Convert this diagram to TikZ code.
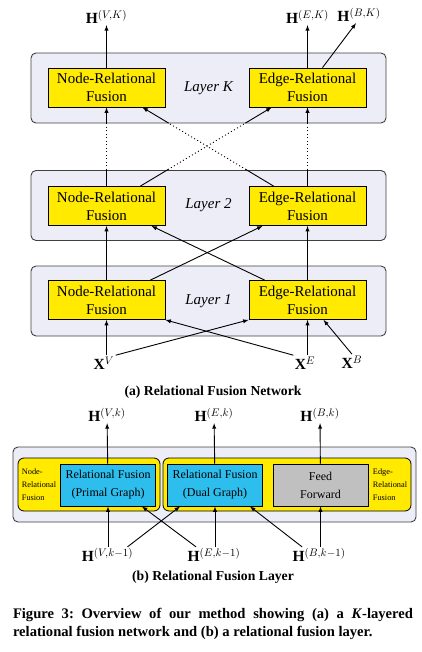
\documentclass[tikz,border=0pt]{standalone}
\usepackage{fontspec}
\setmainfont{Liberation Serif}
\usetikzlibrary{positioning,calc}
\definecolor{fusionyellow}{RGB}{255,234,0}
\definecolor{layerlavender}{RGB}{237,237,248}
\definecolor{graphblue}{RGB}{45,190,238}
\definecolor{feedgray}{RGB}{192,192,192}
\frenchspacing

\begin{document}
\begin{tikzpicture}[x=1pt,y=-1pt,-latex,line width=0.9pt,on grid,
    layer/.style={rectangle,rounded corners=5pt,fill=layerlavender,draw=black!75,minimum width=355pt,minimum height=70pt},
    fusion/.style={rectangle,fill=fusionyellow,draw=black,line width=0.8pt,minimum width=117pt,minimum height=39pt,inner sep=0pt,align=center,font=\fontsize{15}{18}\selectfont},
    layertext/.style={font=\fontsize{15}{18}\selectfont\itshape},
    hlabel/.style={inner sep=1pt,font=\fontsize{15.5}{18}\selectfont},
    subfusion/.style={rectangle,rounded corners=6pt,fill=fusionyellow,draw=black,line width=0.8pt,minimum height=53pt},
    graphbox/.style={rectangle,fill=graphblue,draw=black,line width=0.8pt,minimum width=95pt,minimum height=42pt,inner sep=0pt,align=center,font=\fontsize{12}{18}\selectfont},
    sidetext/.style={align=left,inner sep=0pt,font=\fontsize{8.3}{13}\selectfont},
    captext/.style={font=\fontsize{13.7}{16}\selectfont\bfseries}]
  \useasboundingbox (0,0) rectangle (422,652);
  % (a) relational fusion network
  \node [layer] (LK) at (208.5,88) {};
  \node [layer] (L2) at (208.5,205.5) {};
  \node [layer] (L1) at (208.5,301) {};
  \node [layertext] (TK) at (LK) {Layer \textit{K}};
  \node [layertext] (T2) at (L2) {Layer 2};
  \node [layertext] (T1) at (L1) {Layer 1};
  \node [fusion] (NK) at (106.5,87.5) {Node-Relational\\Fusion};
  \node [fusion] (EK) [right=201pt of NK] {Edge-Relational\\Fusion};
  \node [fusion] (N2) at (106.5,206) {Node-Relational\\Fusion};
  \node [fusion] (E2) [right=201pt of N2] {Edge-Relational\\Fusion};
  \node [fusion] (N1) at (106.5,300) {Node-Relational\\Fusion};
  \node [fusion] (E1) [right=201pt of N1] {Edge-Relational\\Fusion};
  \node [hlabel] (HVK) at (106.5,17) {$\mathbf{H}^{(V,K)}$};
  \node [hlabel] (HEK) at (307.5,17) {$\mathbf{H}^{(E,K)}$};
  \node [hlabel] (HBK) at (359,15) {$\mathbf{H}^{(B,K)}$};
  \node [hlabel] (XV) at (104,363) {$\mathbf{X}^{V}$};
  \node [hlabel] (XE) at (305,363) {$\mathbf{X}^{E}$};
  \node [hlabel] (XB) at (352,362) {$\mathbf{X}^{B}$};
  \node [captext] (CA) at (213,392) {(a) Relational Fusion Network};
  % layer K outputs
  \path (NK) edge (HVK);
  \path (EK) edge (HEK);
  \path ($(EK.north)+(15,0)$) edge (HBK.250);
  % layer 2 to layer K, dotted in the gap
  \coordinate (N2out) at ($(N2.north east)+(-25,0)$);
  \coordinate (E2out) at ($(E2.north west)+(25,0)$);
  \coordinate (NKin) at ($(NK.south east)+(-23,0)$);
  \coordinate (EKin) at ($(EK.south west)+(23,0)$);
  \foreach \a/\b in {N2.north/NK.south, E2.north/EK.south, N2out/EKin, E2out/NKin} {
    \draw [-] (\a) -- ($(\a)!0.21!(\b)$);
    \draw [-,dash pattern=on 1pt off 2.5pt] ($(\a)!0.21!(\b)$) -- ($(\a)!0.8!(\b)$);
    \draw ($(\a)!0.8!(\b)$) -- (\b);
  }
  % layer 1 to layer 2
  \path (N1) edge (N2);
  \path (E1) edge (E2);
  \path ($(N1.north east)+(-15,0)$) edge ($(E2.south west)+(14,0)$);
  \path ($(E1.north west)+(16,0)$) edge ($(N2.south east)+(-14,0)$);
  % inputs
  \path (N1 |- XV.north) edge (N1.south);
  \path (E1 |- XE.north) edge (E1.south);
  \path (XV.north east) edge (E1.south west);
  \path (XE.north west) edge (N1.south east);
  \path (XB.north) edge ($(E1.south)+(16,0)$);
  % (b) relational fusion layer
  \node [layer,minimum width=403pt,minimum height=75pt] (PB) at (214.5,484.5) {};
  \node [subfusion,minimum width=142pt] (YL) at (89,484.5) {};
  \node [subfusion,minimum width=248pt] (YR) at (287,484.5) {};
  \node [graphbox] (B1) at (108,485) {Relational Fusion\\(Primal Graph)};
  \node [graphbox] (B2) at (215,485) {Relational Fusion\\(Dual Graph)};
  \node [graphbox,fill=feedgray] (FF) at (320.5,485) {Feed\\Forward};
  \node [sidetext] (NRF) at (39,485) {Node-\\Relational\\Fusion};
  \node [sidetext] (ERF) at (390,485) {Edge-\\Relational\\Fusion};
  \node [hlabel] (HVk) at (107,415) {$\mathbf{H}^{(V,k)}$};
  \node [hlabel] (HEk) at (214,415) {$\mathbf{H}^{(E,k)}$};
  \node [hlabel] (HBk) at (320,415) {$\mathbf{H}^{(B,k)}$};
  \node [hlabel] (HVk1) at (107.5,555) {$\mathbf{H}^{(V,k-1)}$};
  \node [hlabel] (HEk1) at (214,555) {$\mathbf{H}^{(E,k-1)}$};
  \node [hlabel] (HBk1) at (319,555) {$\mathbf{H}^{(B,k-1)}$};
  \path (B1) edge (HVk);
  \path (B2) edge (HEk);
  \path (FF) edge (HBk);
  \path (B1 |- HVk1.north) edge (B1.south);
  \path (B2 |- HEk1.north) edge (B2.south);
  \path (FF |- HBk1.north) edge (FF.south);
  \path ($(HVk1.north)+(20,0)$) edge ($(B2.south west)+(13,0)$);
  \path ($(HEk1.north)+(-18,0)$) edge ($(B1.south east)+(-14,0)$);
  \path ($(HBk1.north)+(-17,0)$) edge ($(B2.south east)+(-13,0)$);
  \node [captext] (CB) at (213,577) {(b) Relational Fusion Layer};
  \node [captext,text width=400pt,align=justify,inner sep=0pt,font=\fontsize{14.6}{18}\selectfont\bfseries] (FIG) at (213,624)
    {Figure 3: Overview of our method showing (a) a \textit{K}-layered\linebreak relational fusion network and (b) a relational fusion layer.};
\end{tikzpicture}
\end{document}
